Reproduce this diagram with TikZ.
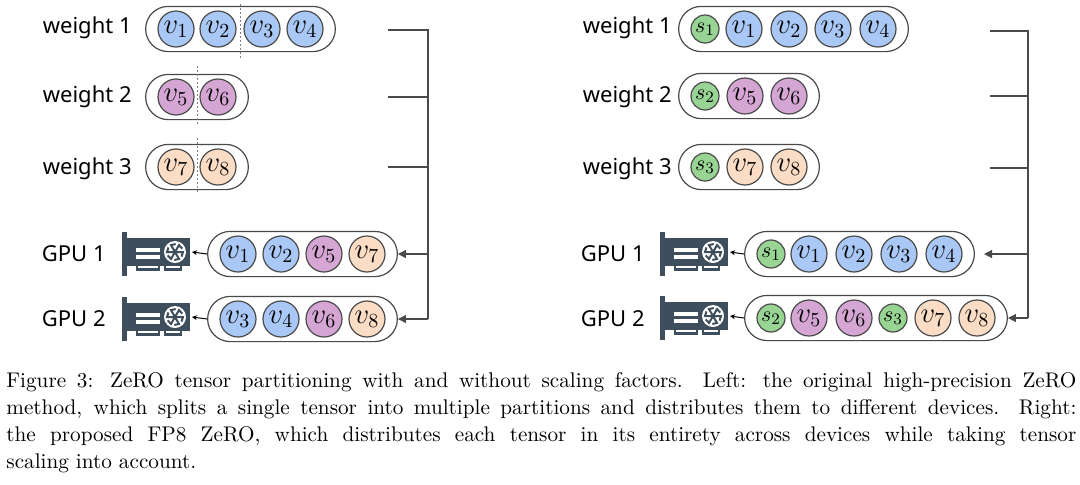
\documentclass[tikz,border=0pt]{standalone}
\usepackage{fontspec}
\newfontfamily\labelfont{Noto Sans}
\usetikzlibrary{shapes.misc,fit,arrows.meta}

\definecolor{vblue}{HTML}{A9C8F5}
\definecolor{vpurple}{HTML}{D5A6D4}
\definecolor{vpeach}{HTML}{FBDCC4}
\definecolor{sgreen}{HTML}{98D493}
\definecolor{gpudark}{HTML}{3E4E5C}
\definecolor{linegray}{HTML}{4A4A4A}

\tikzset{
  val/.style={circle,draw=linegray,line width=0.6pt,minimum size=18pt,inner sep=0pt,font=\fontsize{14}{14}\selectfont},
  sc/.style={circle,draw=linegray,line width=0.6pt,fill=sgreen,minimum size=14pt,inner sep=0pt,font=\fontsize{11}{11}\selectfont},
  pill/.style={rounded rectangle,draw=linegray,line width=0.6pt,inner xsep=1pt,inner ysep=2pt},
  lab/.style={anchor=east,inner sep=0pt,font=\labelfont\fontsize{11}{11}\selectfont},
  split/.style={densely dashed,line width=0.4pt,dash pattern=on 1pt off 1pt,gray},
  wire/.style={linegray,line width=0.6pt},
  feed/.style={wire,-{Triangle[length=4pt,width=4pt]}},
  tiny/.style={line width=0.5pt,-{Stealth[length=2.5pt,width=2.5pt]}},
  pics/gpu/.style={code={
    \fill[gpudark] (0,0) rectangle (5,44);
    \fill[gpudark] (5,6) rectangle (68,34);
    \fill[gpudark] (14,34) rectangle (38,39);
    \fill[gpudark] (42,34) rectangle (60,39);
    \fill[white] (16,34) rectangle (36,36);
    \fill[white] (44,34) rectangle (58,36);
    \fill[white] (14,16) rectangle (38,19.5);
    \fill[white] (14,23) rectangle (38,26.5);
    \fill[white] (53,20) circle (11);
    \foreach \a in {0,60,...,300}
      \draw[gpudark,line width=1pt] (53,20) -- ++(\a:8) arc[start angle=\a,end angle=\a+35,radius=8];
    \fill[gpudark] (53,20) circle (2.5);
    \coordinate (-port) at (70,20);
  }}
}

\begin{document}
\begin{tikzpicture}[x=0.5pt,y=0.5pt,yscale=-1]
\useasboundingbox (0,0) rectangle (1080,484);

% ---- left: plain ZeRO ----
\node[lab] at (132,28) {weight 1};
\node[lab] at (132,97) {weight 2};
\node[lab] at (132,169) {weight 3};
\node[lab] at (106,254) {GPU 1};
\node[lab] at (106,319) {GPU 2};

\node[val,fill=vblue] (la1) at (176,29) {$v_1$};
\node[val,fill=vblue] (la2) at (218,29) {$v_2$};
\node[val,fill=vblue] (la3) at (262,29) {$v_3$};
\node[val,fill=vblue] (la4) at (305,29) {$v_4$};
\node[pill,fit=(la1)(la4)] (lw1) {};
\node[val,fill=vpurple] (lb5) at (176,97) {$v_5$};
\node[val,fill=vpurple] (lb6) at (218,97) {$v_6$};
\node[pill,fit=(lb5)(lb6)] (lw2) {};
\node[val,fill=vpeach] (lc7) at (176,167) {$v_7$};
\node[val,fill=vpeach] (lc8) at (218,167) {$v_8$};
\node[pill,fit=(lc7)(lc8)] (lw3) {};
\draw[split] (240,4) -- (240,58);
\draw[split] (197,66) -- (197,124);
\draw[split] (197,138) -- (197,194);

\node[val,fill=vblue] (lg1) at (238,254) {$v_1$};
\node[val,fill=vblue] (lg2) at (281,254) {$v_2$};
\node[val,fill=vpurple] (lg3) at (324,254) {$v_5$};
\node[val,fill=vpeach] (lg4) at (367,254) {$v_7$};
\node[pill,fit=(lg1)(lg4)] (lp1) {};
\node[val,fill=vblue] (lh1) at (238,319) {$v_3$};
\node[val,fill=vblue] (lh2) at (281,319) {$v_4$};
\node[val,fill=vpurple] (lh3) at (324,319) {$v_6$};
\node[val,fill=vpeach] (lh4) at (367,319) {$v_8$};
\node[pill,fit=(lh1)(lh4)] (lp2) {};

\pic[yscale=-1] (lgpuA) at (122,232) {gpu};
\pic[yscale=-1] (lgpuB) at (122,297) {gpu};
\draw[tiny] (lp1.west) -- (lgpuA-port);
\draw[tiny] (lp2.west) -- (lgpuB-port);

\coordinate (lt) at (428,30);
\coordinate (lb) at (428,319);
\draw[wire] (388,30) -- (lt) -- (lb);
\draw[wire] (388,97) -- (lt |- 0,97);
\draw[wire] (388,167) -- (lt |- 0,167);
\draw[feed] (lt |- lp1) -- (lp1.east);
\draw[feed] (lb) -- (lp2.east);

% ---- right: FP8 ZeRO ----
\node[lab] at (672,28) {weight 1};
\node[lab] at (672,97) {weight 2};
\node[lab] at (672,169) {weight 3};
\node[lab] at (645,254) {GPU 1};
\node[lab] at (645,319) {GPU 2};

\node[sc] (ra0) at (705,29) {$s_1$};
\node[val,fill=vblue] (ra1) at (744,29) {$v_1$};
\node[val,fill=vblue] (ra2) at (789,29) {$v_2$};
\node[val,fill=vblue] (ra3) at (833,29) {$v_3$};
\node[val,fill=vblue] (ra4) at (878,29) {$v_4$};
\node[pill,fit=(ra0)(ra4)] (rw1) {};
\node[sc] (rb0) at (705,96) {$s_2$};
\node[val,fill=vpurple] (rb5) at (745,96) {$v_5$};
\node[val,fill=vpurple] (rb6) at (789,96) {$v_6$};
\node[pill,fit=(rb0)(rb6)] (rw2) {};
\node[sc] (rc0) at (705,167) {$s_3$};
\node[val,fill=vpeach] (rc7) at (745,167) {$v_7$};
\node[val,fill=vpeach] (rc8) at (789,167) {$v_8$};
\node[pill,fit=(rc0)(rc8)] (rw3) {};

\node[sc] (rg0) at (771,254) {$s_1$};
\node[val,fill=vblue] (rg1) at (809,254) {$v_1$};
\node[val,fill=vblue] (rg2) at (854,254) {$v_2$};
\node[val,fill=vblue] (rg3) at (899,254) {$v_3$};
\node[val,fill=vblue] (rg4) at (944,254) {$v_4$};
\node[pill,fit=(rg0)(rg4)] (rp1) {};
\node[sc] (rh0) at (771,318) {$s_2$};
\node[val,fill=vpurple] (rh1) at (809,318) {$v_5$};
\node[val,fill=vpurple] (rh2) at (854,318) {$v_6$};
\node[sc] (rh3) at (893,318) {$s_3$};
\node[val,fill=vpeach] (rh4) at (933,318) {$v_7$};
\node[val,fill=vpeach] (rh5) at (977,318) {$v_8$};
\node[pill,fit=(rh0)(rh5)] (rp2) {};

\pic[yscale=-1] (rgpuA) at (660,232) {gpu};
\pic[yscale=-1] (rgpuB) at (660,296) {gpu};
\draw[tiny] (rp1.west) -- (rgpuA-port);
\draw[tiny] (rp2.west) -- (rgpuB-port);

\coordinate (rt) at (1028,31);
\coordinate (rb) at (1028,318);
\draw[wire] (990,31) -- (rt) -- (rb);
\draw[wire] (990,96) -- (rt |- 0,96);
\draw[wire] (990,168) -- (rt |- 0,168);
\draw[feed] (rt |- rp1) -- ++(-44,0);
\draw[feed] (rb) -- (rp2.east);

% caption
\node[anchor=north west,inner sep=0pt,text width=535pt,align=justify,
      font=\fontsize{10.6}{13.5}\selectfont] (cap) at (6,372)
  {Figure 3: ZeRO tensor partitioning with and without scaling factors. Left: the original high-precision ZeRO\linebreak
   method, which splits a single tensor into multiple partitions and distributes them to different devices. Right:\linebreak
   the proposed FP8 ZeRO, which distributes each tensor in its entirety across devices while taking tensor\linebreak
   scaling into account.};
\end{tikzpicture}
\end{document}
